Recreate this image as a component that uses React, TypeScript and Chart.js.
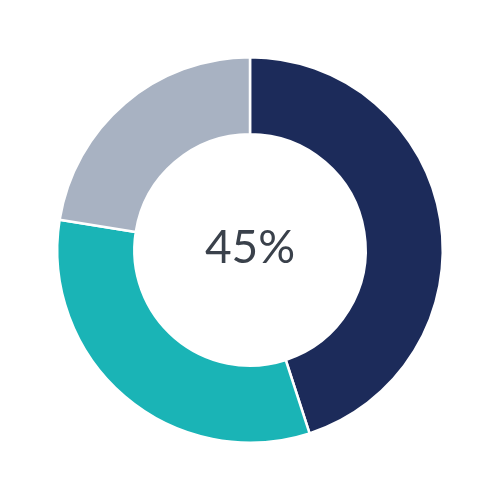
import React, { useEffect, useRef } from "react";
import { Chart, registerables } from "chart.js";

Chart.register(...registerables);

const labels = ["A", "B", "C"];
const values = [45, 32.5, 22.5];
const colors = ["#1c2b5a", "#1ab4b6", "#a8b2c2"];
const centerText = "45%";

const centerTextPlugin = {
  id: "centerText",
  afterDraw(chart: any) {
    const { ctx, chartArea } = chart;
    const cx = (chartArea.left + chartArea.right) / 2;
    const cy = (chartArea.top + chartArea.bottom) / 2;
    ctx.save();
    ctx.font = "400 46px Lato";
    ctx.fillStyle = "#3a414b";
    ctx.textAlign = "center";
    ctx.textBaseline = "middle";
    ctx.fillText(centerText, cx, cy - 2);
    ctx.restore();
  },
};

export default function App() {
  const ref = useRef<HTMLCanvasElement>(null);
  useEffect(() => {
    if (!ref.current) return;
    const chart = new Chart(ref.current, {
      type: "doughnut",
      data: {
        labels,
        datasets: [
          {
            data: values,
            backgroundColor: colors,
            borderColor: "#ffffff",
            borderWidth: 2.5,
          },
        ],
      },
      options: {
        animation: false,
        responsive: false,
        maintainAspectRatio: false,
        cutout: "60%",
        layout: { padding: 56 },
        plugins: {
          legend: { display: false },
          tooltip: { enabled: false },
        },
      },
      plugins: [centerTextPlugin],
    });
    return () => chart.destroy();
  }, []);
  return (
    <div style={{ position: "absolute", left: 0, top: 0, width: 500, height: 500, background: "#fff" }}>
      <canvas ref={ref} width={500} height={500} style={{ width: 500, height: 500 }} />
    </div>
  );
}
